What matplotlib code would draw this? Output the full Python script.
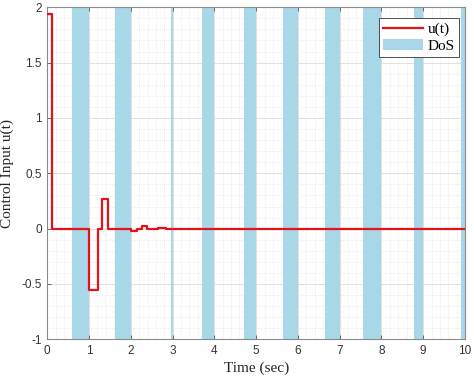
import matplotlib
matplotlib.use("Agg")
import matplotlib.pyplot as plt
from matplotlib.ticker import MultipleLocator
from matplotlib.patches import Patch
from matplotlib.lines import Line2D

# DoS attack intervals (sec)
dos_start = [0.60, 1.62, 2.97, 3.70, 4.71, 5.64, 6.64, 7.57, 8.79, 9.90]
dos_end   = [1.00, 2.00, 3.00, 4.00, 5.00, 6.00, 7.00, 8.00, 9.00, 10.00]

# Control input u(t), piecewise constant (step 'post')
t_steps = [0.0, 0.11, 1.00, 1.21, 1.32, 1.45, 2.00, 2.15, 2.27, 2.39, 2.65, 2.85, 10.0]
u_vals  = [1.94, 0.0, -0.55, 0.0, 0.27, 0.0, -0.025, 0.0, 0.022, 0.0, 0.004, 0.0, 0.0]

x_ticks = [0, 1, 2, 3, 4, 5, 6, 7, 8, 9, 10]
y_ticks = [-1, -0.5, 0, 0.5, 1, 1.5, 2]
y_tick_labels = ["-1", "-0.5", "0", "0.5", "1", "1.5", "2"]

fig = plt.figure(figsize=(4.74, 3.83), dpi=100)
ax = fig.add_axes([0.0998, 0.114, 0.8812, 0.867])

dos_color = "#A8D8E8"
for s, e in zip(dos_start, dos_end):
    ax.axvspan(s, e, color=dos_color, lw=0, zorder=1)

red = "#E3121B"
ax.step(t_steps, u_vals, where="post", color=red, lw=1.6, zorder=3)

ax.set_xlim(0, 10)
ax.set_ylim(-1, 2)
ax.set_xticks(x_ticks)
ax.set_yticks(y_ticks)
ax.set_yticklabels(y_tick_labels)
ax.xaxis.set_minor_locator(MultipleLocator(0.2))
ax.yaxis.set_minor_locator(MultipleLocator(0.1))

ax.grid(which="major", color="#d4d4d4", lw=0.5, ls="-", zorder=0)
ax.grid(which="minor", color="#dcdcdc", lw=0.5, ls=(0, (1, 2)), zorder=0)
ax.set_axisbelow(True)

for sp in ax.spines.values():
    sp.set_color("#8a8a8a")
    sp.set_linewidth(0.8)
ax.tick_params(which="major", direction="in", length=3, width=0.6, color="#555555",
               top=True, right=True, labelsize=8.5, labelcolor="#333333", pad=4)
ax.tick_params(which="minor", length=0, top=True, right=True)
for lab in ax.get_xticklabels() + ax.get_yticklabels():
    lab.set_fontfamily("Liberation Sans")

ax.set_xlabel("Time (sec)", family="Liberation Serif", fontsize=11, color="#262626", labelpad=3)
ax.set_ylabel("Control Input u(t)", family="Liberation Serif", fontsize=11, color="#262626", labelpad=5)

handles = [Line2D([0], [0], color=red, lw=1.6), Patch(facecolor=dos_color, edgecolor="none")]
leg = ax.legend(handles, ["u(t)", "DoS"], loc="upper right", bbox_to_anchor=(0.994, 0.978),
                prop={"family": "Liberation Serif", "size": 11}, frameon=True, fancybox=False,
                edgecolor="#333333", framealpha=1, handlelength=2.6, handletextpad=0.3,
                borderpad=0.3, labelspacing=0.2, borderaxespad=0.2)
leg.get_frame().set_linewidth(0.6)

fig.savefig("out.png", dpi=100)
